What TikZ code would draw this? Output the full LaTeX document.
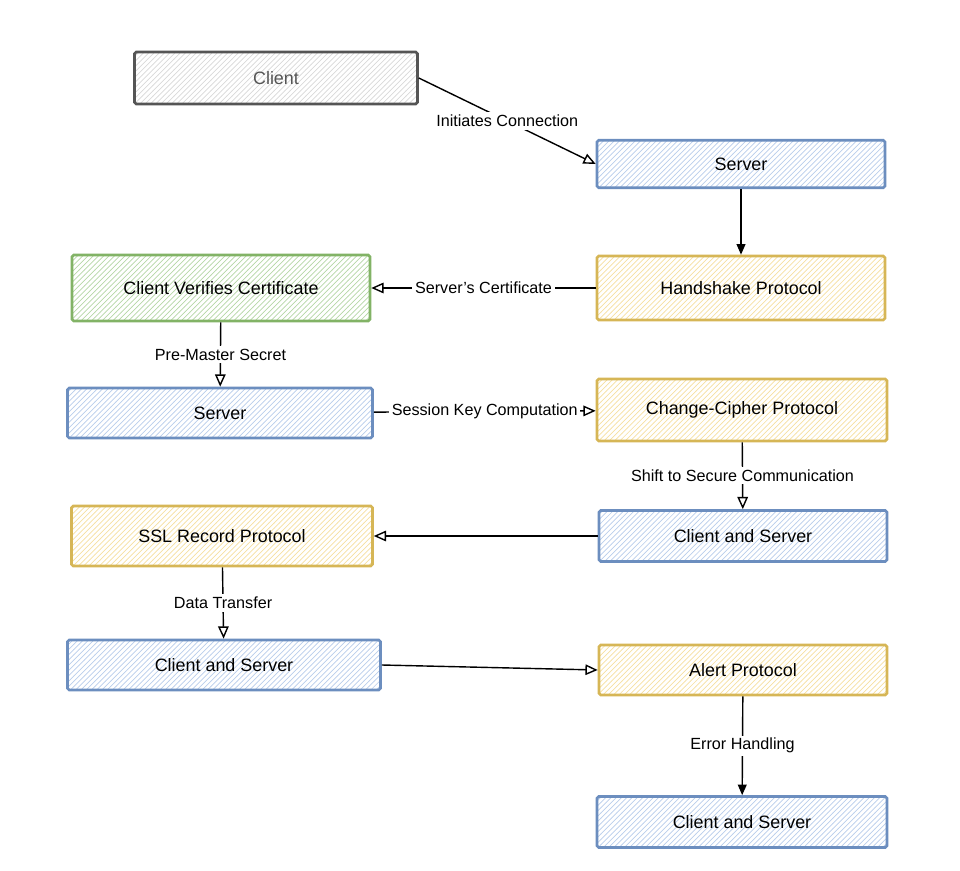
\documentclass[tikz,border=0pt]{standalone}
\usepackage{fontspec}
\setmainfont{Liberation Sans}
\usetikzlibrary{patterns,arrows.meta}
\definecolor{bS}{HTML}{6C8EBF}\definecolor{bF}{HTML}{B8CDEB}
\definecolor{yS}{HTML}{D6B656}\definecolor{yF}{HTML}{F5DFA0}
\definecolor{gS}{HTML}{82B366}\definecolor{gF}{HTML}{B5D6A6}
\definecolor{kS}{HTML}{555555}\definecolor{kF}{HTML}{D8D8D8}
\begin{document}
\begin{tikzpicture}[x=0.02cm,y=-0.02cm,
 box/.style={draw,line width=1.5pt,minimum height=0.95cm,rounded corners=1pt,font=\fontsize{10.2}{12}\selectfont},
 bl/.style={box,draw=bS,pattern=north east lines,pattern color=bF},
 ye/.style={box,draw=yS,pattern=north east lines,pattern color=yF},
 gr/.style={box,draw=gS,pattern=north east lines,pattern color=gF},
 gy/.style={box,draw=kS,pattern=north east lines,pattern color=kF,text=kS},
 arr/.style={draw,line width=0.8pt,-{Triangle[open,length=7pt,width=6pt]}},
 farr/.style={draw,line width=0.8pt,-{Triangle[length=6pt,width=5pt]}},
 lab/.style={fill=white,inner sep=1.5pt,font=\fontsize{9.2}{11}\selectfont}]
\useasboundingbox (0,0) rectangle (960,871);
\node[gy,minimum width=5.66cm,minimum height=1.04cm] (c) at (276,78) {Client};
\node[bl,minimum width=5.76cm] (s1) at (741,164) {Server};
\node[ye,minimum width=5.76cm,minimum height=1.28cm] (hs) at (741,288) {Handshake Protocol};
\node[gr,minimum width=5.96cm,minimum height=1.32cm] (cv) at (221,288) {Client Verifies Certificate};
\node[bl,minimum width=6.1cm,minimum height=1.0cm] (s2) at (220,413) {Server};
\node[ye,minimum width=5.8cm,minimum height=1.24cm] (cc) at (742,410) {Change-Cipher Protocol};
\node[bl,minimum width=5.76cm,minimum height=1.02cm] (cs1) at (743,536) {Client and Server};
\node[ye,minimum width=6.02cm,minimum height=1.2cm] (ssl) at (222,536) {SSL Record Protocol};
\node[bl,minimum width=6.26cm,minimum height=1.0cm] (cs2) at (224,665) {Client and Server};
\node[ye,minimum width=5.76cm,minimum height=1.0cm] (al) at (743,670) {Alert Protocol};
\node[bl,minimum width=5.8cm,minimum height=1.02cm] (cs3) at (742,822) {Client and Server};
\draw[arr] (c.east) -- node[lab]{Initiates Connection} (s1.west);
\draw[farr] (s1) -- (hs);
\draw[arr] (hs) -- node[lab]{Server's Certificate} (cv);
\draw[arr] (cv) -- node[lab]{Pre-Master Secret} (s2);
\draw[arr] (s2) -- node[lab]{Session Key Computation} (cc);
\draw[arr] (cc) -- node[lab]{Shift to Secure Communication} (cs1);
\draw[arr] (cs1) -- (ssl);
\draw[arr] (ssl) -- node[lab]{Data Transfer} (cs2);
\draw[arr] (cs2.east) -- (al.west);
\draw[farr] (al) -- node[lab]{Error Handling} (cs3);
\end{tikzpicture}
\end{document}
